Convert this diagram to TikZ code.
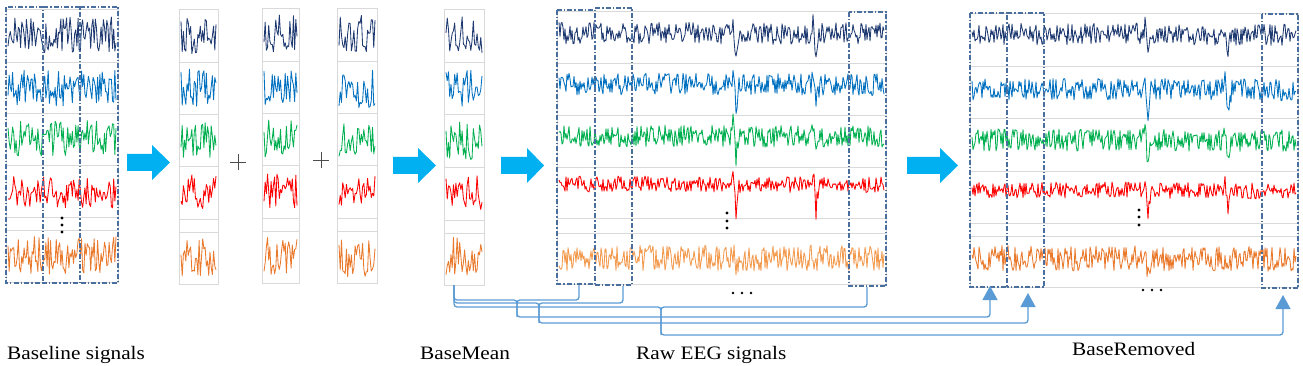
\documentclass[tikz,border=0pt]{standalone}
\usepackage{fontspec}
\setmainfont{Liberation Serif}
\usetikzlibrary{arrows.meta}
\definecolor{cnavy}{HTML}{1F3A70}
\definecolor{cblue}{HTML}{0070C0}
\definecolor{cgreen}{HTML}{00B050}
\definecolor{cred}{HTML}{FF0000}
\definecolor{corange}{HTML}{E97A2C}
\definecolor{corangel}{HTML}{F29A4E}
\definecolor{gridgray}{HTML}{D9D9D9}
\definecolor{boxblue}{HTML}{4A6E9E}
\definecolor{connblue}{HTML}{5B9BD5}
\definecolor{arrowblue}{HTML}{00B0F0}
\tikzset{
  gridline/.style={draw=gridgray, line width=0.9pt},
  sigline/.style={line width=0.85pt, line join=round},
  dbox/.style={draw=boxblue, line width=1.1pt, dash pattern=on 5pt off 2pt on 1.5pt off 2pt},
  conn/.style={draw=connblue, line width=1.3pt, rounded corners=3pt},
  connarrow/.style={conn, -{Triangle[width=15pt,length=14pt]}},
  lab/.style={font=\fontsize{19}{22}\selectfont, inner sep=0pt, anchor=base west},
  plus/.style={draw=black!70, line width=0.8pt},
  dotsty/.style={fill=black},
  declare function={clp(\d)=max(min(\d,9),-9);
    sp(\d)=(-0.5/(1+((clp(\d)+1.8)/1.1)^2)+1/(1+((clp(\d)-1)/1.1)^2));}
}
\newcommand\mypanel[9]{%
  \draw[gridline] (#1,#3) rectangle (#2,#9);
  \foreach \yy in {#4,#5,#6,#7,#8} \draw[gridline] (#1,\yy) -- (#2,\yy);}
\newcommand\sg[6]{\draw[sigline,#1] plot[domain=#2:#3,samples=#4] (\x,{#5+#6*rand});}
\newcommand\sgs[9]{\draw[sigline,#1] plot[domain=#2:#3,samples=#4] (\x,{#5+#6*rand+#8*sp(\x-#7)+#9*sp(\x-#7-80)});}
\newcommand\barrow[4]{\fill[arrowblue] (#1,#4-8.5) -- (#2,#4-8.5) -- (#2,#4-17.5) -- (#3,#4) -- (#2,#4+17.5) -- (#2,#4+8.5) -- (#1,#4+8.5) -- cycle;}
% open box: no left edge (shared with neighbour)
\newcommand\obox[4]{\draw[dbox] (#1,#2) -- (#3,#2) -- (#3,#4) -- (#1,#4);}
\begin{document}
\begin{tikzpicture}[x=1pt,y=-1pt]
\pgfmathsetseed{4242}
\useasboundingbox (0,0) rectangle (1303,366);

% ---------- Baseline signals panel ----------
\mypanel{6}{118}{9}{62}{113}{165}{217}{230}{282}
\sg{cnavy}{8}{116}{95}{35}{18}
\sg{cblue}{8}{116}{95}{88}{18}
\sg{cgreen}{8}{116}{95}{138}{18}
\sg{cred}{8}{116}{95}{192}{16}
\sg{corange}{8}{116}{95}{255}{19}
\draw[dbox] (6,7) rectangle (43,283);
\obox{43}{7}{80}{283}
\obox{80}{7}{118}{283}
\foreach \yy in {218,225,232} \fill[dotsty] (62,\yy) circle (1.6);

\barrow{127}{152}{170}{162.5}

% ---------- three baseline segments ----------
\mypanel{179}{218}{9}{62}{114}{166}{219}{232}{284}
\sg{cnavy}{181}{216}{30}{35}{19}
\sg{cblue}{181}{216}{30}{88}{19}
\sg{cgreen}{181}{216}{30}{139}{19}
\sg{cred}{181}{216}{30}{192}{17}
\sg{corange}{181}{216}{30}{257}{19}
\node[inner sep=0pt, minimum size=15pt] (p1) at (238,162) {};
\draw[plus] (p1.west) -- (p1.east) (p1.north) -- (p1.south);

\mypanel{262}{299}{8}{61}{113}{165}{218}{231}{283}
\sg{cnavy}{264}{297}{29}{34}{19}
\sg{cblue}{264}{297}{29}{88}{19}
\sg{cgreen}{264}{297}{29}{138}{19}
\sg{cred}{264}{297}{29}{190}{18}
\sg{corange}{264}{297}{29}{256}{19}
\node[inner sep=0pt, minimum size=15pt] (p2) at (321,160) {};
\draw[plus] (p2.west) -- (p2.east) (p2.north) -- (p2.south);

\mypanel{337}{377}{8}{61}{113}{165}{218}{231}{283}
\sg{cnavy}{339}{375}{30}{34}{19}
\sg{cblue}{339}{375}{30}{88}{20}
\sg{cgreen}{339}{375}{30}{138}{20}
\sg{cred}{339}{375}{30}{192}{17}
\sg{corange}{339}{375}{30}{257}{20}

\barrow{393}{418}{436}{165.5}

% ---------- BaseMean ----------
\mypanel{444}{484}{9}{62}{114}{167}{220}{233}{285}
\sg{cnavy}{446}{482}{30}{35}{19}
\sg{cblue}{446}{482}{30}{89}{19}
\sg{cgreen}{446}{482}{30}{141}{19}
\sg{cred}{446}{482}{30}{193}{18}
\sg{corange}{446}{482}{30}{256}{19}

\barrow{501}{527}{544}{165.5}

% ---------- Raw EEG ----------
\mypanel{557}{886}{11}{63}{115}{167}{218}{233}{284}
\sgs{cnavy}{559}{884}{326}{33}{11}{735}{30}{26}
\sgs{cblue}{559}{884}{326}{84}{11}{735}{28}{26}
\sgs{cgreen}{559}{884}{326}{136}{11}{735}{32}{22}
\sgs{cred}{559}{884}{326}{184}{8}{735}{32}{30}
\sgs{corangel}{559}{884}{326}{258}{13}{735}{18}{6}
\draw[dbox] (557,10) rectangle (595,284);
\obox{595}{8}{632}{285}
\draw[dbox] (849,12) rectangle (886,286);
\foreach \yy in {213,221,228} \fill[dotsty] (727,\yy) circle (1.6);
\foreach \xx in {733,742,751} \fill[dotsty] (\xx,293) circle (1.3);

\barrow{907}{940}{958}{165.5}

% ---------- BaseRemoved ----------
\mypanel{970}{1298}{13}{66}{118}{171}{223}{236}{287}
\sgs{cnavy}{972}{1296}{325}{34}{11}{1147}{30}{26}
\sgs{cblue}{972}{1296}{325}{89}{11}{1147}{28}{26}
\sgs{cgreen}{972}{1296}{325}{140}{11}{1147}{30}{22}
\sgs{cred}{972}{1296}{325}{190}{8}{1147}{32}{30}
\sgs{corange}{972}{1296}{325}{258}{13}{1147}{18}{6}
\draw[dbox] (970,13) rectangle (1007,287);
\obox{1007}{13}{1044}{287}
\draw[dbox] (1262,14) rectangle (1298,288);
\foreach \yy in {210,217,225} \fill[dotsty] (1139,\yy) circle (1.6);
\foreach \xx in {1143,1152,1161} \fill[dotsty] (\xx,290) circle (1.3);

% ---------- connectors ----------
\coordinate (bm) at (454,285);
\coordinate (r1) at (579,285);
\coordinate (r2) at (623,286);
\coordinate (r3) at (867,287);
\coordinate (a1) at (990,286);
\coordinate (a2) at (1028,293);
\coordinate (a3) at (1283,295);
\coordinate (j1) at (517,300);
\coordinate (j2) at (539,303);
\coordinate (j3) at (661,307);

\draw[connarrow] (bm) |- (j1) -- (517,317) -| (a1);
\draw[conn] (r1) |- (j1) -- (517,317);
\draw[connarrow] (bm) |- (j2) -- (539,323) -| (a2);
\draw[conn] (r2) |- (j2) -- (539,323);
\draw[connarrow] (bm) |- (j3) -- (661,335) -| (a3);
\draw[conn] (r3) |- (j3) -- (661,335);

% ---------- labels ----------
\node[lab] (l1) at (7,359) {\scalebox{1.12}[1]{Baseline signals}};
\node[lab] (l2) at (420,359) {\scalebox{1.12}[1]{BaseMean}};
\node[lab] (l3) at (636,359) {\scalebox{1.12}[1]{Raw EEG signals}};
\node[lab] (l4) at (1072,355) {\scalebox{1.12}[1]{BaseRemoved}};
\end{tikzpicture}
\end{document}
